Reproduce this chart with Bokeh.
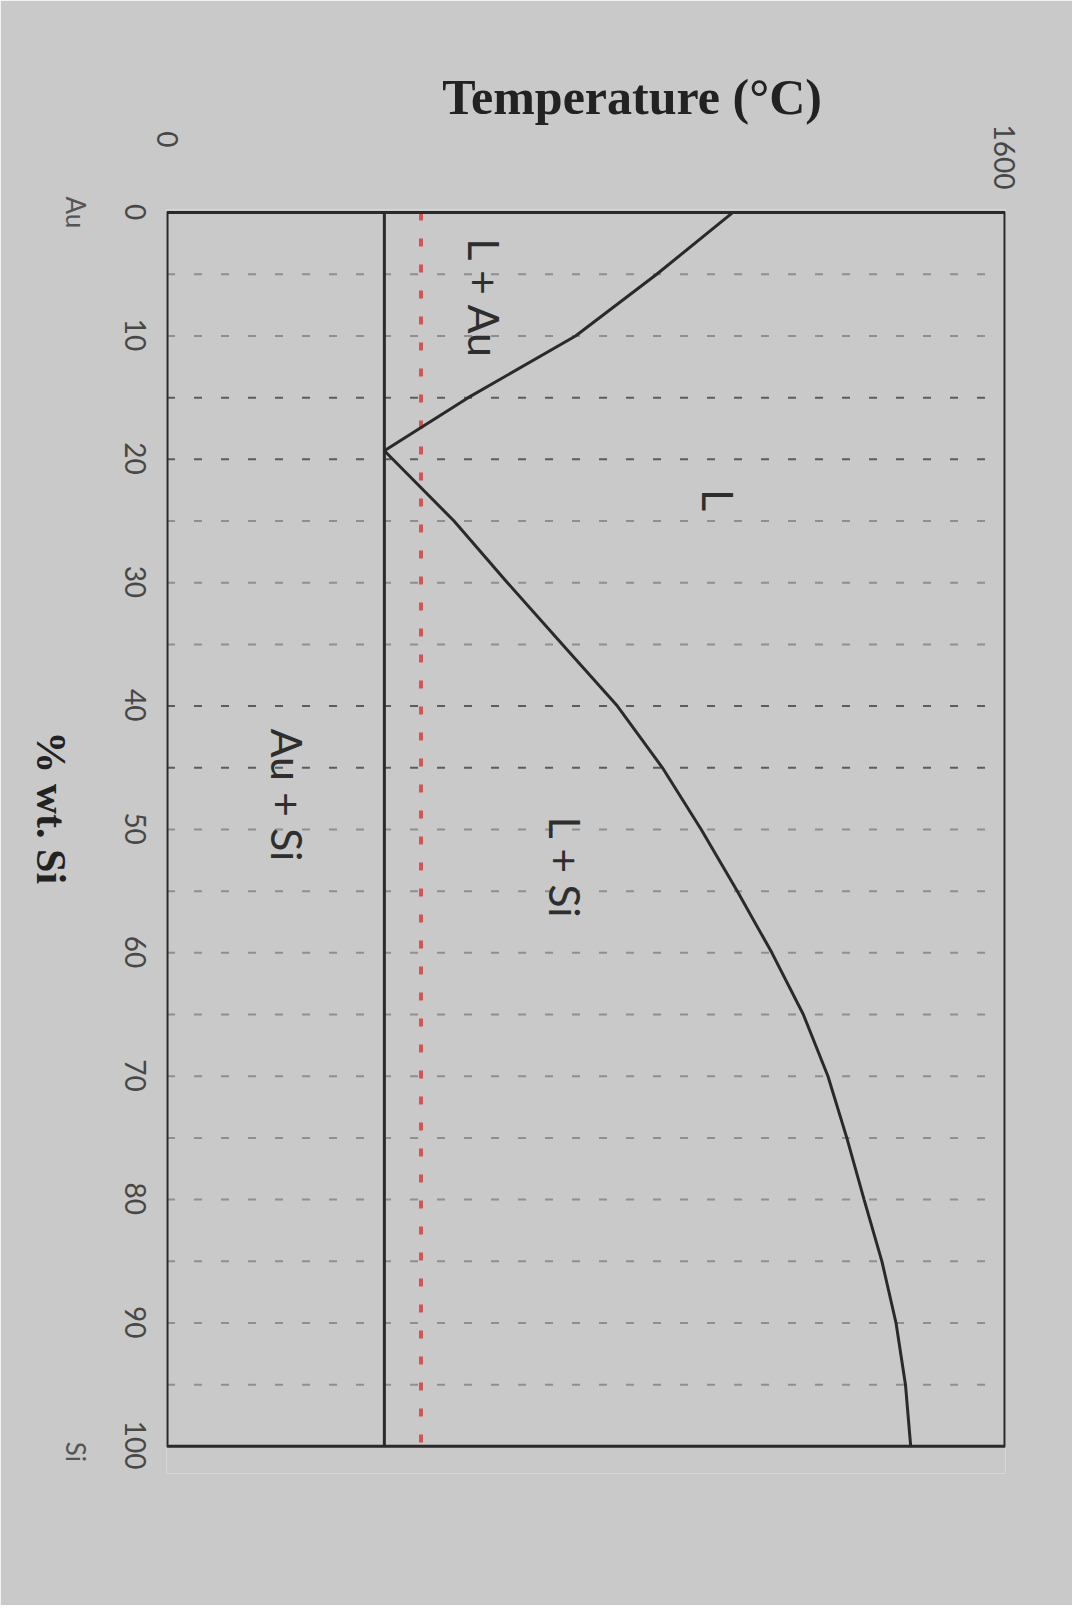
import math
from bokeh.plotting import figure
from bokeh.models import (Range1d, LinearAxis, FixedTicker, LabelSet,
                          ColumnDataSource)
from bokeh.embed import file_html
from bokeh.resources import INLINE
from bokeh.core.properties import value

# ---------------- data ----------------
t_min, t_max = 0, 1600                                             # °C
c_min, c_max = 0, 100                                              # % wt. Si
comp_ticks = [0, 10, 20, 30, 40, 50, 60, 70, 80, 90, 100]
temp_ticks = [0, 1600]
grid_light_comp = [5, 10, 25, 30, 35, 50, 55, 60, 65, 70, 75, 80, 85, 90, 95]
grid_dark_comp = [15, 20, 40, 45]

# liquidus, Au-rich branch (L / L+Au boundary)
liq_au_comp = [0, 5, 10, 15, 19.3]
liq_au_temp = [1080, 935, 780, 575, 415]
# liquidus, Si-rich branch (L / L+Si boundary)
liq_si_comp = [19.3, 25, 30, 35, 40, 45, 50, 55, 60, 65, 70, 75, 80, 85, 90, 95, 100]
liq_si_temp = [415, 548, 650, 755, 860, 946, 1020, 1089, 1155, 1215, 1262, 1298,
               1331, 1365, 1392, 1410, 1420]

eutectic_temp = 415      # solid solidus line
marked_temp = 485        # red dotted line

region_names = ["L + Au", "L", "L + Si", "Au + Si"]
region_comp = [7.0, 23.3, 53.1, 47.2]
region_temp = [606, 1053, 760, 230]

end_comp = [0, 100]
end_names = ["Au", "Si"]

x_title = "Temperature (°C)"
y_title = "% wt. Si"
x_title_temp = 888       # temperature at which the title is centred
y_title_comp = 48.3      # composition at which the title is centred

# ---------------- layout constants ----------------
PX_PER_PCT = 12.34       # vertical pixels per % Si
T_PAD = 1                # tiny range padding so the frame box is not clipped
C_PAD_TOP = 0.25
C_EXT_BOTTOM = 2.2       # room below 100 so the "100" label can be centred

BG = "#c9c9c9"
INK = "#2a2a2a"
TICK = "#474747"
TICK_PX = 28
YT_PX = 42


def anchor(c, text, font_px, em=0.55):
    """rotated axis labels end at the tick; shift so they are centred on c"""
    return round(c + len(text) * em * font_px / 2 / PX_PER_PCT, 3)


p = figure(width=1072, height=1605,
           x_range=Range1d(t_min - T_PAD, t_max + T_PAD),
           y_range=Range1d(c_max + C_EXT_BOTTOM, c_min - C_PAD_TOP),
           output_backend="svg", toolbar_location=None,
           x_axis_location=None, y_axis_location=None,
           min_border_left=166, min_border_right=67,
           min_border_top=209, min_border_bottom=132)
p.background_fill_color = BG
p.border_fill_color = BG
p.outline_line_color = None
for g in p.grid:
    g.visible = False


def bare_axis(ticks, overrides):
    ax = LinearAxis(ticker=FixedTicker(ticks=ticks))
    ax.major_label_overrides = overrides
    ax.axis_line_color = None
    ax.major_tick_line_color = None
    ax.minor_tick_line_color = None
    ax.major_tick_in = 0
    ax.major_tick_out = 0
    ax.minor_tick_in = 0
    ax.minor_tick_out = 0
    return ax


def rotated(ax, font, size, color, standoff, style="normal"):
    ax.major_label_orientation = -math.pi / 2
    ax.major_label_text_font = font
    ax.major_label_text_font_size = f"{size}px"
    ax.major_label_text_font_style = style
    ax.major_label_text_color = color
    ax.major_label_standoff = standoff


# composition tick labels (left), reading top-to-bottom
c_pos = [anchor(c, str(c), TICK_PX) for c in comp_ticks]
ax_c = bare_axis(c_pos, {pos: str(c) for pos, c in zip(c_pos, comp_ticks)})
rotated(ax_c, "Lato", TICK_PX, TICK, 31)
p.add_layout(ax_c, "left")

# Au / Si end labels
e_pos = [anchor(c, n, 26, 0.6) for c, n in zip(end_comp, end_names)]
ax_end = bare_axis(e_pos, {pos: n for pos, n in zip(e_pos, end_names)})
rotated(ax_end, "Lato", 26, "#555555", 36)
p.add_layout(ax_end, "left")

# composition axis title
yt_pos = round(y_title_comp + len(y_title) * 0.45 * YT_PX / 2 / PX_PER_PCT, 3)
ax_yt = bare_axis([yt_pos], {yt_pos: y_title})
rotated(ax_yt, "Liberation Serif", YT_PX, "#222222", -10, "bold")
p.add_layout(ax_yt, "left")

# temperature tick labels (above): "1600" nearer the frame, "0" a little higher
ax_t1 = bare_axis([temp_ticks[1]], {temp_ticks[1]: str(temp_ticks[1])})
rotated(ax_t1, "Lato", TICK_PX, TICK, 20)
p.add_layout(ax_t1, "above")
ax_t0 = bare_axis([temp_ticks[0]], {temp_ticks[0]: str(temp_ticks[0])})
rotated(ax_t0, "Lato", TICK_PX, TICK, -26)
p.add_layout(ax_t0, "above")

# temperature axis title
ax_xt = bare_axis([x_title_temp], {x_title_temp: x_title})
ax_xt.major_label_orientation = "horizontal"
ax_xt.major_label_text_font = "Liberation Serif"
ax_xt.major_label_text_font_style = "bold"
ax_xt.major_label_text_font_size = "50px"
ax_xt.major_label_text_color = "#222222"
ax_xt.major_label_standoff = -3
p.add_layout(ax_xt, "above")

# dashed composition gridlines
p.segment(x0=t_min, x1=t_max, y0=grid_light_comp, y1=grid_light_comp,
          line_color="#8f8f8f", line_width=2, line_dash="8 19")
p.segment(x0=t_min, x1=t_max, y0=grid_dark_comp, y1=grid_dark_comp,
          line_color="#5c5c5c", line_width=2, line_dash="8 19")

# red dotted line and eutectic (solidus) line
p.segment(x0=[marked_temp], x1=[marked_temp], y0=c_min, y1=c_max,
          line_color="#d25454", line_width=4, line_dash="8 18")
p.segment(x0=[eutectic_temp], x1=[eutectic_temp], y0=c_min, y1=c_max,
          line_color=INK, line_width=3)

# liquidus
p.line(liq_au_temp, liq_au_comp, line_color=INK, line_width=3)
p.line(liq_si_temp, liq_si_comp, line_color=INK, line_width=3)

# frame box
p.quad(left=[t_min], right=[t_max], top=[c_min], bottom=[c_max],
       fill_color=None, line_color=INK, line_width=3)

# region labels
reg_src = ColumnDataSource(dict(t=region_temp, c=region_comp, name=region_names))
p.add_layout(LabelSet(x="t", y="c", text="name", source=reg_src,
                      angle=-math.pi / 2, text_align="center",
                      text_baseline="middle", text_font=value("Lato"),
                      text_font_size="43px", text_color="#2e2e2e"))

open("out.html", "w").write(file_html(p, INLINE))
